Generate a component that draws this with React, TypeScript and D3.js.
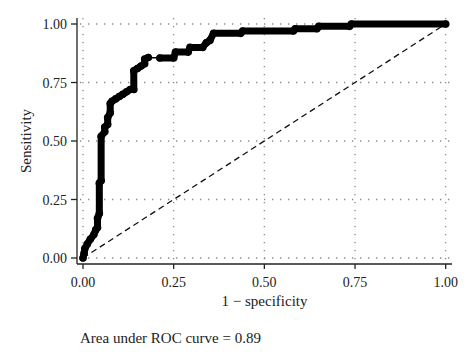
import React from 'react';
import * as d3 from 'd3';

// ROC curve vertices (1 - specificity, sensitivity)
// the curve has a short gap around 0.18-0.21 where only a thin line joins the points
const lowerFpr = [0, 0.003, 0.005, 0.012, 0.02, 0.03, 0.035, 0.04, 0.04, 0.045, 0.045, 0.05, 0.05, 0.06, 0.06, 0.068, 0.068, 0.075, 0.075, 0.08, 0.09, 0.1, 0.11, 0.12, 0.13, 0.14, 0.14, 0.15, 0.16, 0.17, 0.17, 0.18];
const lowerTpr = [0, 0.02, 0.04, 0.06, 0.08, 0.1, 0.12, 0.13, 0.17, 0.19, 0.32, 0.33, 0.52, 0.54, 0.56, 0.57, 0.6, 0.62, 0.66, 0.67, 0.68, 0.69, 0.7, 0.71, 0.72, 0.72, 0.8, 0.81, 0.82, 0.83, 0.85, 0.857];
const upperFpr = [0.212, 0.25, 0.255, 0.29, 0.295, 0.33, 0.34, 0.35, 0.36, 0.435, 0.44, 0.58, 0.585, 0.645, 0.65, 0.735, 0.74, 1];
const upperTpr = [0.855, 0.855, 0.88, 0.88, 0.9, 0.9, 0.92, 0.93, 0.96, 0.96, 0.97, 0.97, 0.98, 0.98, 0.99, 0.99, 1, 1];

const ticks = [0, 0.25, 0.5, 0.75, 1];
const xTitle = '1 \u2212 specificity';
const yTitle = 'Sensitivity';
const aucNote = 'Area under ROC curve = 0.89';

const W = 474;
const H = 363;
const font = '"Liberation Serif", "DejaVu Serif", serif';

export default function App() {
  // panel edges
  const left = 77, right = 452, top = 18, bottom = 264;

  const x = d3.scaleLinear().domain([0, 1]).range([83, 445.7]);
  const y = d3.scaleLinear().domain([0, 1]).range([258, 24]);

  const lower = lowerFpr.map((f, i) => [f, lowerTpr[i]] as [number, number]);
  const upper = upperFpr.map((f, i) => [f, upperTpr[i]] as [number, number]);
  const all = lower.concat(upper);

  const line = d3.line<[number, number]>()
    .x(d => x(d[0]))
    .y(d => y(d[1]));

  return (
    <svg width={W} height={H} style={{ position: 'absolute', left: 0, top: 0, background: '#fff' }}>
      {/* dotted grid */}
      <g stroke="#8a8a8a" strokeWidth={1.3} strokeDasharray="1.3,6.7">
        {ticks.map(t => (
          <line key={'h' + t} x1={left + 3} x2={right} y1={y(t)} y2={y(t)} />
        ))}
        {ticks.map(t => (
          <line key={'v' + t} x1={x(t)} x2={x(t)} y1={top} y2={bottom - 2} />
        ))}
      </g>

      {/* chance line */}
      <line x1={x(0)} y1={y(0)} x2={x(1)} y2={y(1)} stroke="#111" strokeWidth={1.3} strokeDasharray="6,4" />

      {/* ROC curve */}
      <path d={line(all) || ''} fill="none" stroke="#000" strokeWidth={1.6} />
      {[lower, upper].map((seg, i) => (
        <path key={i} d={line(seg) || ''} fill="none" stroke="#000" strokeWidth={7}
          strokeLinejoin="round" strokeLinecap="round" />
      ))}
      {all.map((d, i) => (
        <circle key={i} cx={x(d[0])} cy={y(d[1])} r={3.8} fill="#000" />
      ))}

      {/* axes */}
      <g stroke="#222" strokeWidth={1.3}>
        <line x1={left} x2={right} y1={bottom} y2={bottom} />
        <line x1={left} x2={left} y1={top} y2={bottom} />
        {ticks.map(t => (
          <line key={'xt' + t} x1={x(t)} x2={x(t)} y1={bottom} y2={bottom + 5} />
        ))}
        {ticks.map(t => (
          <line key={'yt' + t} x1={left - 6} x2={left} y1={y(t)} y2={y(t)} />
        ))}
      </g>
      <g fontFamily={font} fontSize={14} fill="#222">
        {ticks.map(t => (
          <text key={'xl' + t} x={x(t)} y={bottom + 23} textAnchor="middle">{d3.format('.2f')(t)}</text>
        ))}
        {ticks.map(t => (
          <text key={'yl' + t} x={left - 10} y={y(t) + 5} textAnchor="end">{d3.format('.2f')(t)}</text>
        ))}
      </g>

      {/* titles */}
      <g fontFamily={font} fontSize={15} fill="#222">
        <text x={264.5} y={306} textAnchor="middle">{xTitle}</text>
        <text transform={`translate(31,141) rotate(-90)`} textAnchor="middle">{yTitle}</text>
        <text x={80} y={343}>{aucNote}</text>
      </g>
    </svg>
  );
}
